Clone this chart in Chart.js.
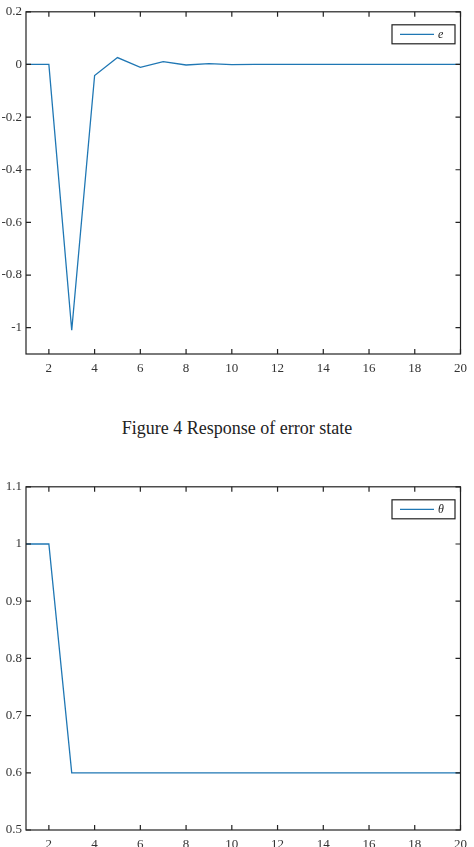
<!DOCTYPE html>
<html><head><meta charset="utf-8">
<script src="https://cdn.jsdelivr.net/npm/chart.js@4"></script>
<style>
body{margin:0;background:#fff;width:474px;height:847px;overflow:hidden;position:relative;font-family:"Liberation Serif",serif}
#c1{position:absolute;left:0;top:0}
#c2{position:absolute;left:0;top:475px}
#cap{position:absolute;top:418px;left:0;width:474px;text-align:center;font-size:18px;color:#222}
</style></head><body>
<canvas id="c1" width="474" height="380"></canvas>
<div id="cap">Figure 4 Response of error state</div>
<canvas id="c2" width="474" height="372"></canvas>
<script>
const steps=[1,2,3,4,5,6,7,8,9,10,11,12,13,14,15,16,17,18,19,20];
const eValues=[0,0,-1.01,-0.042,0.026,-0.011,0.011,-0.002,0.003,-0.001,0,0,0,0,0,0,0,0,0,0];
const thetaValues=[1,1,0.6,0.6,0.6,0.6,0.6,0.6,0.6,0.6,0.6,0.6,0.6,0.6,0.6,0.6,0.6,0.6,0.6,0.6];
const xTicks=[2,4,6,8,10,12,14,16,18,20];
const eTicks=[0.2,0,-0.2,-0.4,-0.6,-0.8,-1];
const thetaTicks=[1.1,1,0.9,0.8,0.7,0.6,0.5];
const blue='#1f77b4';
const frame={id:'frame',afterDraw(ch,a,o){
  const c=ch.ctx,A=ch.chartArea,xs=ch.scales.x,ys=ch.scales.y;
  c.save();c.strokeStyle='#222';c.lineWidth=1.2;
  c.strokeRect(A.left,A.top,A.right-A.left,A.bottom-A.top);
  c.beginPath();
  o.xt.forEach(v=>{const p=xs.getPixelForValue(v);c.moveTo(p,A.bottom);c.lineTo(p,A.bottom-5);c.moveTo(p,A.top);c.lineTo(p,A.top+5);});
  o.yt.forEach(v=>{const p=ys.getPixelForValue(v);c.moveTo(A.left,p);c.lineTo(A.left+5,p);c.moveTo(A.right,p);c.lineTo(A.right-5,p);});
  c.stroke();
  const bx=392,by=A.top+13,bw=63,bh=19;
  c.fillStyle='#fff';c.fillRect(bx,by,bw,bh);c.strokeRect(bx,by,bw,bh);
  c.strokeStyle=blue;c.lineWidth=1.3;c.beginPath();c.moveTo(bx+8,by+bh/2);c.lineTo(bx+42,by+bh/2);c.stroke();
  c.fillStyle='#222';c.font='italic 12px "Liberation Serif"';c.textBaseline='middle';c.fillText(o.lab,bx+46,by+bh/2+1);
  c.restore();}};
function make(id,data,yt,ymin,ymax,lab,xh){
  new Chart(document.getElementById(id),{type:'line',
    data:{labels:steps,datasets:[{data:data.map((v,i)=>({x:steps[i],y:v})),borderColor:blue,borderWidth:1.3,pointRadius:0,tension:0}]},
    options:{responsive:false,animation:false,layout:{padding:{top:6,right:8,left:0,bottom:0}},
      plugins:{legend:{display:false},tooltip:{enabled:false},frame:{xt:xTicks,yt:yt,lab:lab}},
      scales:{
        x:{type:'linear',min:1,max:20,afterBuildTicks:s=>{s.ticks=xTicks.map(v=>({value:v}));},
          grid:{display:false,drawTicks:false},border:{display:false},
          ticks:{color:'#333',font:{family:'Liberation Serif',size:13},padding:7,maxRotation:0},
          afterFit:s=>{s.height=xh;}},
        y:{min:ymin,max:ymax,afterBuildTicks:s=>{s.ticks=yt.map(v=>({value:v}));},
          grid:{display:false,drawTicks:false},border:{display:false},
          ticks:{color:'#333',font:{family:'Liberation Serif',size:13},padding:4,callback:v=>String(Math.round(v*10)/10)},
          afterFit:s=>{s.width=26;}}}},
    plugins:[frame]});
}
make('c1',eValues,eTicks,-1.1,0.2,'e',26);
make('c2',thetaValues,thetaTicks,0.5,1.1,'θ',17);
</script></body></html>
